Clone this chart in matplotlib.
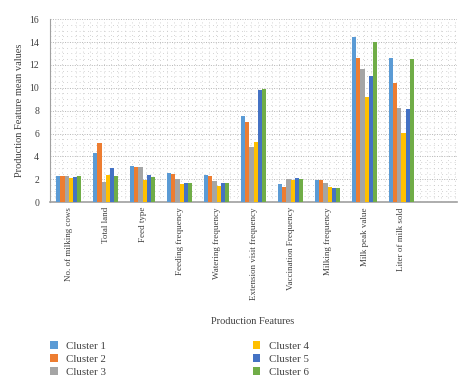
import matplotlib.pyplot as plt
import numpy as np
from matplotlib.patches import Patch
from matplotlib.ticker import MultipleLocator

features = [
    "No. of milking cows", "Total land", "Feed type", "Feeding frequency",
    "Watering frequency", "Extension visit frequency", "Vaccination Frequency",
    "Milking frequency", "Milk peak value", "Liter of milk sold",
]
clusters = ["Cluster 1", "Cluster 2", "Cluster 3", "Cluster 4", "Cluster 5", "Cluster 6"]

cluster1 = [2.30, 4.26, 3.20, 2.55, 2.35, 7.57, 1.56, 1.97, 14.47, 12.60]
cluster2 = [2.30, 5.14, 3.10, 2.45, 2.25, 7.05, 1.32, 1.97, 12.60, 10.42]
cluster3 = [2.25, 1.80, 3.05, 2.00, 1.85, 4.84, 2.05, 1.67, 11.66, 8.22]
cluster4 = [2.15, 2.40, 1.90, 1.60, 1.45, 5.28, 1.90, 1.32, 9.19, 6.02]
cluster5 = [2.20, 3.00, 2.40, 1.65, 1.70, 9.84, 2.14, 1.26, 11.07, 8.13]
cluster6 = [2.25, 2.25, 2.20, 1.65, 1.65, 9.90, 2.03, 1.23, 14.03, 12.48]

colors = ["#5B9BD5", "#ED7D31", "#A5A5A5", "#FFC000", "#4472C4", "#70AD47"]
series = [cluster1, cluster2, cluster3, cluster4, cluster5, cluster6]

plt.rcParams["font.family"] = ["Liberation Serif", "DejaVu Serif"]
text_color = "#404040"

fig = plt.figure(figsize=(4.74, 3.91), dpi=100)
ax = fig.add_axes([0.106, 0.483, 0.858, 0.468])

n_slots = len(features) + 1  # trailing empty slot like the original
x = np.arange(len(features))
w = 0.113
for i, (vals, c) in enumerate(zip(series, colors)):
    ax.bar(x + (i - 2.5) * w, vals, width=w, color=c, zorder=3)

ax.set_xlim(-0.5, n_slots - 0.5)
ax.set_ylim(0, 16)
ax.yaxis.set_major_locator(MultipleLocator(2))
ax.yaxis.set_minor_locator(MultipleLocator(0.5))
ax.set_xticks(x)
ax.set_xticklabels(features, rotation=90, fontsize=6.5, color=text_color)
ax.xaxis.set_minor_locator(MultipleLocator(0.19))
ax.tick_params(axis="both", which="both", length=0)
ax.tick_params(axis="y", labelsize=7, labelcolor=text_color, pad=8)

ax.grid(axis="y", which="major", color="#b5b5b5", linestyle=(0, (1, 1.5)), linewidth=0.7, zorder=0)
ax.grid(axis="y", which="minor", color="#c5c5c5", linestyle=(0, (1, 4)), linewidth=0.6, zorder=0)
ax.grid(axis="x", which="minor", color="#c5c5c5", linestyle=(0, (1, 4)), linewidth=0.6, zorder=0)

for s in ["top", "right"]:
    ax.spines[s].set_visible(False)
ax.spines["left"].set_color("#a0a0a0")
ax.spines["bottom"].set_color("#a0a0a0")
ax.spines["bottom"].set_linewidth(1.2)

ax.set_ylabel("Production Feature mean values", fontsize=7.5, color=text_color, labelpad=4)
fig.text(0.534, 0.177, "Production Features", ha="center", va="center", fontsize=7.5, color=text_color)

handles = [Patch(facecolor=c, label=l) for c, l in zip(colors, clusters)]
leg = fig.legend(handles=handles, ncol=2, loc="upper left", bbox_to_anchor=(0.085, 0.152),
                 frameon=False, fontsize=7.8, handlelength=0.7, handleheight=0.7,
                 handletextpad=0.8, columnspacing=13.5, labelspacing=0.3)
for t in leg.get_texts():
    t.set_color(text_color)

fig.savefig("out.png", dpi=100)
